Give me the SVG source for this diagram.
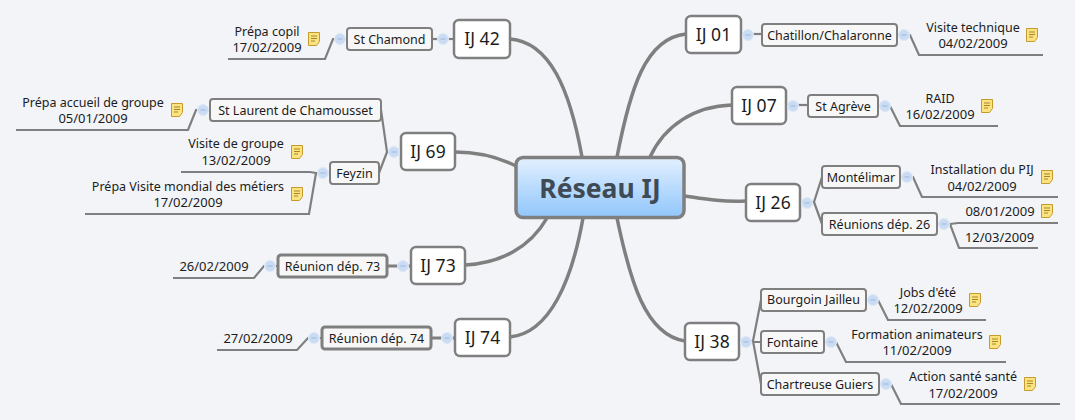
<svg xmlns="http://www.w3.org/2000/svg" width="1075" height="420" viewBox="0 0 1075 420">
<style>
text{font-family:"Noto Sans","DejaVu Sans",sans-serif;fill:#1c1c1c;text-anchor:middle}
.t{font-size:12.5px}
.y{font-size:13px}
.b{font-size:17.5px}
.r{fill:#fff;stroke:#7f7f7f;stroke-width:2.5}
.s{fill:#f7f7f7;stroke:#7f7f7f;stroke-width:2}
.h{fill:#f7f7f7;stroke:#7f7f7f;stroke-width:3}
.c path{fill:none;stroke:#7f7f7f}
.c1{stroke-width:3.5}
.c2{stroke-width:2.2}
.d{fill:#c9dcf3;stroke:#dfe9f7;stroke-width:1}
.n{stroke:#9db6d6;stroke-width:1}
</style>
<defs>
<linearGradient id="g" x1="0" y1="0" x2="0" y2="1"><stop offset="0" stop-color="#e3f0fe"/><stop offset="1" stop-color="#90c6fc"/></linearGradient>
<g id="note"><path d="M0 0H11V9L8 13H0Z" fill="#fbe47f" stroke="#c79a2e"/><path d="M2.500 3.500H8.500M2.500 6H8.500M2.500 8.500H6.500" stroke="#a8842e" fill="none"/></g>
<g id="dot"><circle class="d" r="5.500"/><path class="n" d="M-2.500 0H2.500"/></g>
</defs>
<rect width="1075" height="420" fill="#f2f4f8"/>
<g id="connectors" class="c">
<g class="c1">
<path d="M510 39C550 42 570 90 582 157"/>
<path d="M686 34C645 38 630 90 617 157"/>
<path d="M732 105C695 106 665 125 650 157"/>
<path d="M746 201C720 202 705 199 685 196"/>
<path d="M685 341C645 335 630 280 617 218"/>
<path d="M510 337C550 333 572 280 583 218"/>
<path d="M465 265C500 263 530 248 547 218"/>
<path d="M455 152C480 152 500 158 516 166"/>
</g>
<g class="c2">
<path d="M432 39H454"/>
<path d="M741 34H762"/>
<path d="M786 105H808"/>
<path d="M800 202H814L822 177M814 202L822 224"/>
<path d="M739 341H753M753 341L761 300M753 342H761M753 341L761 384"/>
<path d="M401 152H387L381 110M387 152L379 173"/>
<path stroke-width="3" d="M387 266H411"/>
<path stroke-width="3" d="M431 338H455"/>
<path d="M897 35H910L919 55H1043"/>
<path d="M878 106H890L900 126H998"/>
<path d="M900 177H913L922 197H1058"/>
<path d="M937 224H950L959 248H1038"/>
<path d="M950 224L958 223H1058"/>
<path d="M866 300H878L888 320H986"/>
<path d="M824 342H836L846 362H1006"/>
<path d="M879 384H891L901 404H1060"/>
<path d="M347 39H333L325 59H228"/>
<path d="M210 110H196L188 130H16"/>
<path d="M330 173H316L309 214H85"/>
<path d="M316 173L310 172H181"/>
<path d="M278 266H264L254 278H173"/>
<path d="M322 338H308L297 350H217"/>
</g>
</g>
<g id="central"><rect x="516" y="157.500" width="168" height="60" rx="7" fill="url(#g)" stroke="#7f7f7f" stroke-width="3.500"/><text x="600" y="198" style="font-size:26.500px;font-weight:700;fill:#3f4a55">Réseau IJ</text></g>
<g id="ij42"><rect class="r" x="454" y="20" width="56" height="38" rx="5"/><text class="b" x="482" y="45">IJ 42</text><use href="#dot" x="443" y="39"/></g>
<g id="ij01"><rect class="r" x="686" y="16" width="55" height="37" rx="5"/><text class="b" x="713.500" y="41">IJ 01</text><use href="#dot" x="748" y="35"/></g>
<g id="ij07"><rect class="r" x="732" y="87" width="54" height="37" rx="5"/><text class="b" x="759" y="112">IJ 07</text><use href="#dot" x="793" y="106"/></g>
<g id="ij26"><rect class="r" x="746" y="184" width="54" height="37" rx="5"/><text class="b" x="773" y="209">IJ 26</text><use href="#dot" x="807" y="203"/></g>
<g id="ij38"><rect class="r" x="685" y="323" width="54" height="37" rx="5"/><text class="b" x="712" y="348">IJ 38</text><use href="#dot" x="746" y="342"/></g>
<g id="ij69"><rect class="r" x="401" y="133" width="54" height="37" rx="5"/><text class="b" x="428" y="158">IJ 69</text><use href="#dot" x="394" y="152"/></g>
<g id="ij73"><rect class="r" x="411" y="247" width="54" height="37" rx="5"/><text class="b" x="438" y="272">IJ 73</text><use href="#dot" x="403" y="266"/></g>
<g id="ij74"><rect class="r" x="455" y="319" width="55" height="37" rx="5"/><text class="b" x="482.500" y="344">IJ 74</text><use href="#dot" x="447" y="338"/></g>
<g id="stchamond"><rect class="s" x="347" y="28" width="85" height="22" rx="3"/><text class="t" x="389.500" y="44">St Chamond</text><use href="#dot" x="340" y="39"/></g>
<g id="chatillon"><rect class="s" x="762" y="24" width="135" height="22" rx="3"/><text class="t" x="829.500" y="40">Chatillon/Chalaronne</text><use href="#dot" x="904" y="35"/></g>
<g id="stagreve"><rect class="s" x="808" y="95" width="70" height="22" rx="3"/><text class="t" x="843" y="111">St Agrève</text><use href="#dot" x="885" y="106"/></g>
<g id="montelimar"><rect class="s" x="822" y="166" width="78" height="22" rx="3"/><text class="t" x="861" y="182">Montélimar</text><use href="#dot" x="907" y="177"/></g>
<g id="reunions26"><rect class="s" x="822" y="213" width="115" height="22" rx="3"/><text class="t" x="879.500" y="229">Réunions dép. 26</text><use href="#dot" x="944" y="224"/></g>
<g id="bourgoin"><rect class="s" x="761" y="289" width="105" height="22" rx="3"/><text class="t" x="813.500" y="304">Bourgoin Jailleu</text><use href="#dot" x="873" y="300"/></g>
<g id="fontaine"><rect class="s" x="761" y="331" width="63" height="22" rx="3"/><text class="t" x="792.500" y="347">Fontaine</text><use href="#dot" x="831" y="342"/></g>
<g id="chartreuse"><rect class="s" x="761" y="373" width="118" height="22" rx="3"/><text class="t" x="820" y="389">Chartreuse Guiers</text><use href="#dot" x="886" y="384"/></g>
<g id="stlaurent"><rect class="s" x="210" y="99" width="171" height="22" rx="3"/><text class="t" x="295.500" y="115">St Laurent de Chamousset</text><use href="#dot" x="203" y="110"/></g>
<g id="feyzin"><rect class="s" x="330" y="162" width="49" height="22" rx="3"/><text class="t" x="354.500" y="178">Feyzin</text><use href="#dot" x="323" y="173"/></g>
<g id="reunion73"><rect class="h" x="278" y="255" width="109" height="22" rx="3"/><text class="t" x="332.500" y="271">Réunion dép. 73</text><use href="#dot" x="270" y="266"/></g>
<g id="reunion74"><rect class="h" x="322" y="327" width="109" height="22" rx="3"/><text class="t" x="376.500" y="343">Réunion dép. 74</text><use href="#dot" x="314" y="338"/></g>
<g id="l1"><text class="t" x="267" y="36">Prépa copil</text><text class="y" x="267" y="52">17/02/2009</text><use href="#note" x="308.500" y="32.500"/></g>
<g id="l2"><text class="t" x="93" y="107">Prépa accueil de groupe</text><text class="y" x="93" y="123">05/01/2009</text><use href="#note" x="171.500" y="103.500"/></g>
<g id="l3"><text class="t" x="236" y="148">Visite de groupe</text><text class="y" x="236" y="165">13/02/2009</text><use href="#note" x="291.500" y="145.500"/></g>
<g id="l4"><text class="t" x="188" y="191">Prépa Visite mondial des métiers</text><text class="y" x="188" y="207">17/02/2009</text><use href="#note" x="291.500" y="187.500"/></g>
<g id="l5"><text class="y" x="214" y="271">26/02/2009</text></g>
<g id="l6"><text class="y" x="258" y="343">27/02/2009</text></g>
<g id="l7"><text class="t" x="973" y="32">Visite technique</text><text class="y" x="973" y="48">04/02/2009</text><use href="#note" x="1026.500" y="28.500"/></g>
<g id="l8"><text class="t" x="940" y="103">RAID</text><text class="y" x="940" y="119">16/02/2009</text><use href="#note" x="981.500" y="99.500"/></g>
<g id="l9"><text class="t" x="982" y="174">Installation du PIJ</text><text class="y" x="982" y="190.500">04/02/2009</text><use href="#note" x="1041.500" y="170.500"/></g>
<g id="l10"><text class="y" x="1000" y="216">08/01/2009</text><use href="#note" x="1041.500" y="204.500"/></g>
<g id="l11"><text class="y" x="999.500" y="242">12/03/2009</text></g>
<g id="l12"><text class="t" x="928" y="297">Jobs d'été</text><text class="y" x="928" y="313">12/02/2009</text><use href="#note" x="969.500" y="293.500"/></g>
<g id="l13"><text class="t" x="917" y="339">Formation animateurs</text><text class="y" x="917" y="355">11/02/2009</text><use href="#note" x="989.500" y="335.500"/></g>
<g id="l14"><text class="t" x="963" y="381">Action santé santé</text><text class="y" x="963" y="397.500">17/02/2009</text><use href="#note" x="1024.500" y="377.500"/></g>
</svg>
